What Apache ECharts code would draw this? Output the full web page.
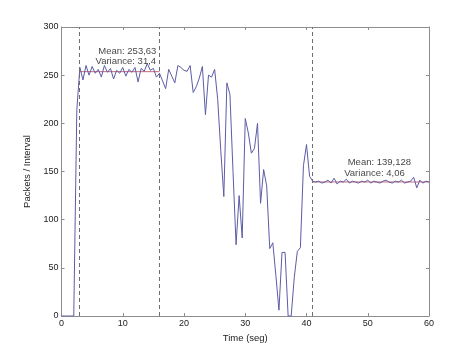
<!DOCTYPE html>
<html>
<head>
<meta charset="utf-8">
<script src="https://cdn.jsdelivr.net/npm/echarts@6/dist/echarts.min.js"></script>
<style>
  html, body { margin: 0; padding: 0; background: #fff; }
  #chart { width: 474px; height: 355px; }
</style>
</head>
<body>
<div id="chart"></div>
<script>
  // tiempo de muestreo (seg)
  const times = [
    0, 0.5, 1, 1.5, 2, 2.5, 3, 3.5, 4, 4.5, 5, 5.5, 6, 6.5, 7, 7.5, 8, 8.5, 9, 9.5,
    10, 10.5, 11, 11.5, 12, 12.5, 13, 13.5, 14, 14.5, 15, 15.5, 16, 16.5, 17, 17.5, 18, 18.5, 19, 19.5,
    20, 20.5, 21, 21.5, 22, 22.5, 23, 23.5, 24, 24.5, 25, 25.5, 26, 26.5, 27, 27.5, 28, 28.5, 29, 29.5,
    30, 30.5, 31, 31.5, 32, 32.5, 33, 33.5, 34, 34.5, 35, 35.5, 36, 36.5, 37, 37.5, 38, 38.5, 39, 39.5,
    40, 40.5, 41, 41.5, 42, 42.5, 43, 43.5, 44, 44.5, 45, 45.5, 46, 46.5, 47, 47.5, 48, 48.5, 49, 49.5,
    50, 50.5, 51, 51.5, 52, 52.5, 53, 53.5, 54, 54.5, 55, 55.5, 56, 56.5, 57, 57.5, 58, 58.5, 59, 59.5, 60
  ];
  // paquetes por intervalo
  const packets = [
    0, 0, 0, 0, 0, 214,
    258, 245, 260, 250, 259, 252, 256, 248, 260, 253, 257, 246, 255, 252,
    258, 249, 256, 253, 258, 243, 257, 254, 262, 255, 257, 248, 252,
    244, 236, 256, 249, 242, 260, 258, 255, 254, 260, 232, 238, 247, 259, 209,
    250, 248, 256, 225, 172, 124, 242, 230, 150, 74, 125, 81, 205, 190, 169, 174,
    200, 117, 152, 135, 70, 76, 42, 6, 66, 66, 0, 0, 40, 67, 71, 156, 178, 145, 140,
    139, 140, 138, 139, 141, 138, 143, 137, 140, 139, 142, 138, 140, 139, 138, 140,
    139, 141, 138, 140, 139, 138, 140, 141, 139, 138, 140, 139, 141, 138, 139, 140,
    144, 133, 141, 138, 140, 139
  ];
  // tramos estables y su media
  const meanStart = [3, 41];
  const meanEnd = [16, 60];
  const meanValue = [253.63, 139.128];
  // lineas verticales de fase
  const phaseMarks = [2.9, 16, 41];
  // anotaciones
  const noteText = ['Mean: 253,63', 'Variance: 31,4', 'Mean: 139,128', 'Variance: 4,06'];
  const noteX = [10.75, 10.5, 51.9, 51.1];
  const noteY = [274.5, 264, 159, 148.5];

  const xTicks = [0, 10, 20, 30, 40, 50, 60];
  const yTicks = [0, 50, 100, 150, 200, 250, 300];

  const font = 'Liberation Sans, Arial, sans-serif';
  const boxColor = '#8c8c8c';

  const chart = echarts.init(document.getElementById('chart'));

  const baseAxis = {
    type: 'value',
    axisLine: { show: true, onZero: false, lineStyle: { color: boxColor, width: 1 } },
    axisTick: { show: true, inside: true, length: 3, lineStyle: { color: boxColor } },
    splitLine: { show: false },
  };

  let meanSeries = meanValue.map((v, i) => ({
    type: 'line',
    data: [[meanStart[i], v], [meanEnd[i], v]],
    showSymbol: false,
    silent: true,
    lineStyle: { color: '#c86a78', width: 1 },
    z: 1
  }));

  let option = {
    backgroundColor: '#ffffff',
    animation: false,
    grid: { left: 61.5, right: 45, top: 27, bottom: 39 },
    xAxis: [
      Object.assign({}, baseAxis, {
        min: 0, max: 60, interval: 10, position: 'bottom',
        name: 'Time (seg)', nameLocation: 'middle', nameGap: 12,
        nameTextStyle: { fontFamily: font, fontSize: 9.5, color: '#222' },
        axisLabel: { fontFamily: font, fontSize: 9, color: '#222', margin: 3,
          customValues: xTicks }
      }),
      Object.assign({}, baseAxis, {
        min: 0, max: 60, interval: 10, position: 'top',
        axisLabel: { show: false }
      })
    ],
    yAxis: [
      Object.assign({}, baseAxis, {
        min: 0, max: 300, interval: 50, position: 'left',
        name: 'Packets / Interval', nameLocation: 'middle', nameGap: 19,
        nameTextStyle: { fontFamily: font, fontSize: 9.5, color: '#222' },
        axisLabel: { fontFamily: font, fontSize: 9, color: '#222', margin: 3,
          customValues: yTicks }
      }),
      Object.assign({}, baseAxis, {
        min: 0, max: 300, interval: 50, position: 'right',
        axisLabel: { show: false }
      })
    ],
    series: [
      {
        type: 'line',
        data: times.map((t, i) => [t, packets[i]]),
        showSymbol: false,
        lineStyle: { color: '#5c5ca6', width: 1 },
        z: 2,
        markLine: {
          silent: true,
          symbol: 'none',
          label: { show: false },
          lineStyle: { color: '#6e6e6e', type: [4, 3], width: 1 },
          data: phaseMarks.map(x => ({ xAxis: x }))
        }
      },
      ...meanSeries,
      {
        type: 'scatter',
        symbolSize: 0,
        silent: true,
        data: noteX.map((x, i) => [x, noteY[i]]),
        label: {
          show: true,
          position: 'inside',
          fontFamily: font,
          fontSize: 9.5,
          color: '#111',
          formatter: p => noteText[p.dataIndex]
        },
        z: 5
      }
    ]
  };

  chart.setOption(option);
</script>
</body>
</html>
